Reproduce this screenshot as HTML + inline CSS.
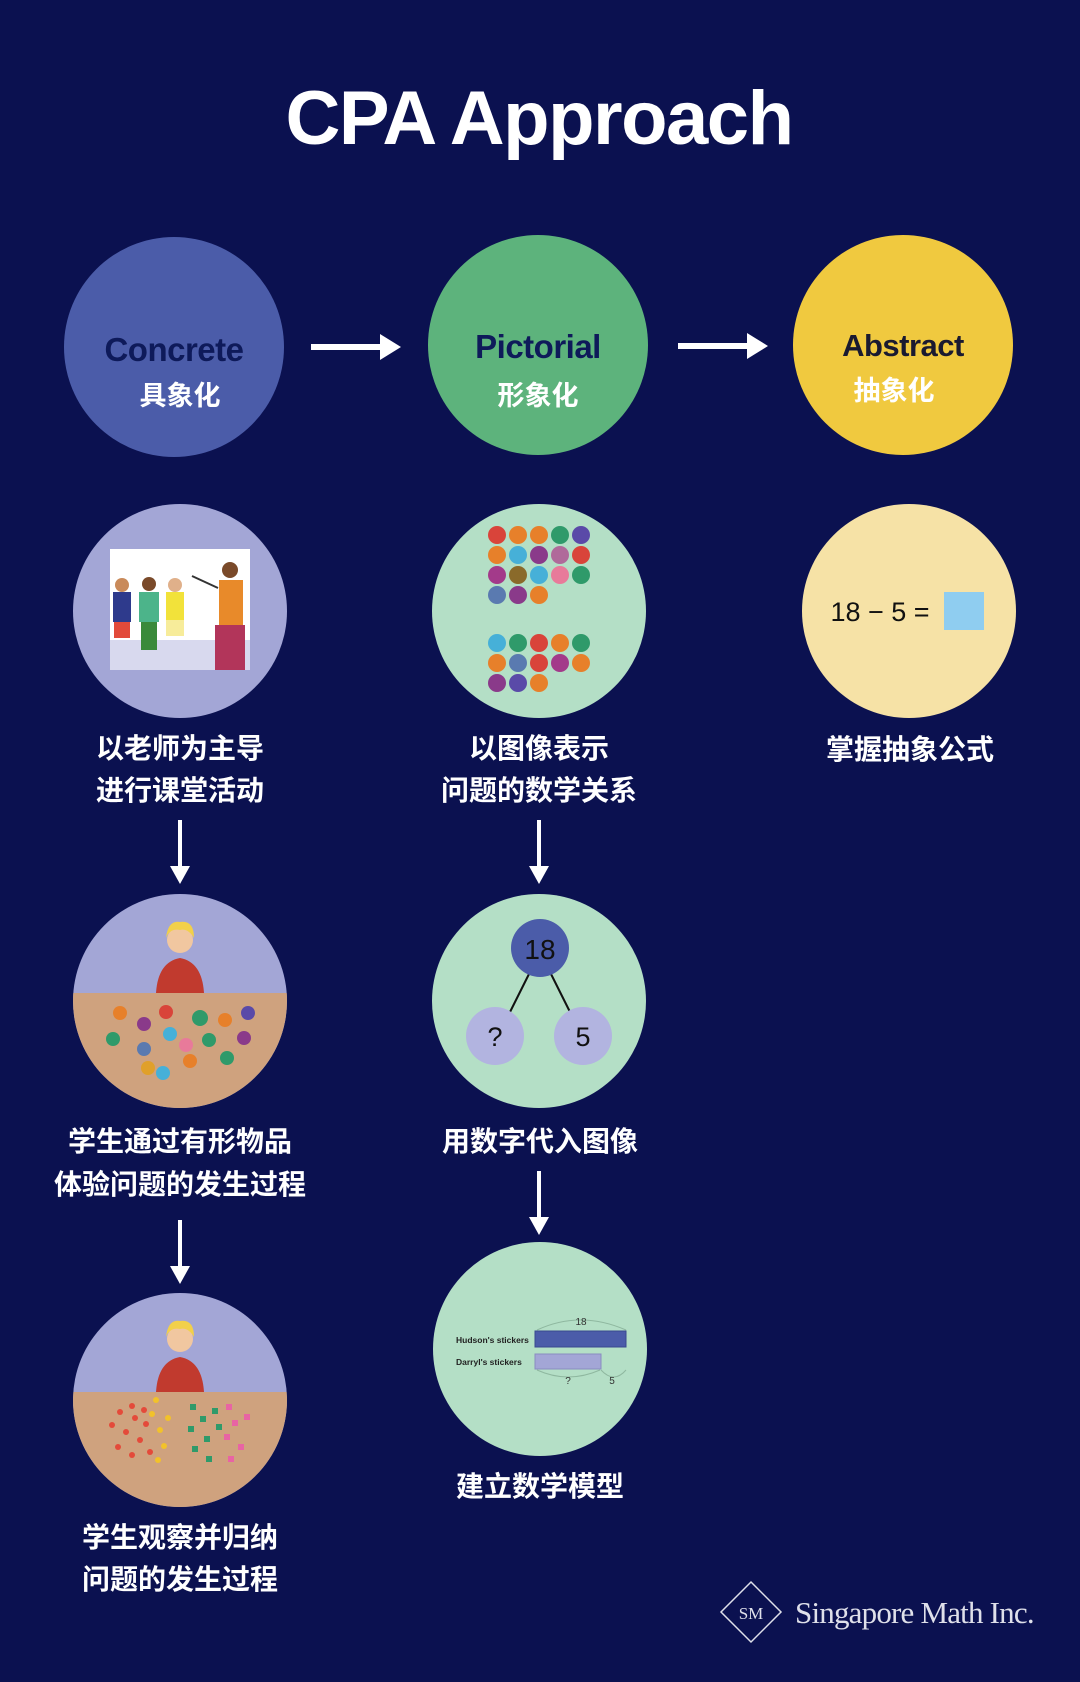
<!DOCTYPE html>
<html><head><meta charset="utf-8"><style>
html,body{margin:0;padding:0;background:#0b1150;}
svg{display:block}
text{font-family:"Liberation Sans","Noto Sans CJK SC",sans-serif;}
.cn{font-family:"Liberation Sans","Noto Sans CJK SC",sans-serif;font-weight:700;fill:#fff;font-size:28px;text-anchor:middle}
.serif{font-family:"Liberation Serif",serif;}
</style></head><body>
<svg width="1080" height="1682" viewBox="0 0 1080 1682" xmlns="http://www.w3.org/2000/svg">
<defs>
<clipPath id="c1"><circle cx="180" cy="1001" r="107"/></clipPath>
<clipPath id="c2"><circle cx="180" cy="1400" r="107"/></clipPath>
</defs>
<rect width="1080" height="1682" fill="#0b1150"/>
<text x="539" y="144" text-anchor="middle" font-size="76" font-weight="700" fill="#fff" letter-spacing="-1.5">CPA Approach</text>

<!-- top circles -->
<circle cx="174" cy="347" r="110" fill="#4b5ca9"/>
<text x="174" y="361" text-anchor="middle" font-size="33" font-weight="700" fill="#0e1a5a" letter-spacing="-0.5">Concrete</text>
<text x="180" y="405" text-anchor="middle" font-size="27" font-weight="700" fill="#fff">具象化</text>
<circle cx="538" cy="345" r="110" fill="#5db37c"/>
<text x="538" y="358" text-anchor="middle" font-size="33" font-weight="700" fill="#0e1a5a" letter-spacing="-0.5">Pictorial</text>
<text x="538" y="405" text-anchor="middle" font-size="27" font-weight="700" fill="#fff">形象化</text>
<circle cx="903" cy="345" r="110" fill="#f0c93f"/>
<text x="903" y="356" text-anchor="middle" font-size="31" font-weight="700" fill="#1a1a30" letter-spacing="-0.5">Abstract</text>
<text x="894" y="400" text-anchor="middle" font-size="27" font-weight="700" fill="#fff">抽象化</text>

<g stroke="#fff" stroke-width="6" fill="none">
<line x1="311" y1="347" x2="388" y2="347"/>
<line x1="678" y1="346" x2="755" y2="346"/>
</g>
<path d="M380,334 L401,347 L380,360 Z" fill="#fff"/>
<path d="M747,333 L768,346 L747,359 Z" fill="#fff"/>

<!-- row 2 -->
<circle cx="180" cy="611" r="107" fill="#a3a6d6"/>
<rect x="110" y="549" width="140" height="100" fill="#fff"/>
<rect x="110" y="640" width="140" height="30" fill="#d8d9ee"/>
<g>
<rect x="113" y="592" width="18" height="30" fill="#2e3a8c"/><rect x="114" y="622" width="16" height="16" fill="#e24a3a"/><circle cx="122" cy="585" r="7" fill="#c98a5a"/>
<rect x="139" y="592" width="20" height="30" fill="#4cb48a"/><rect x="141" y="622" width="16" height="28" fill="#3a8a3a"/><circle cx="149" cy="584" r="7" fill="#7a4a2a"/>
<rect x="166" y="592" width="18" height="28" fill="#f2e23a"/><rect x="166" y="620" width="18" height="16" fill="#f7ec9a"/><circle cx="175" cy="585" r="7" fill="#e0b08a"/>
<rect x="219" y="580" width="24" height="45" fill="#e88a2a"/><rect x="215" y="625" width="30" height="45" fill="#b2355a"/><circle cx="230" cy="570" r="8" fill="#7a4a2a"/>
<line x1="218" y1="588" x2="192" y2="576" stroke="#333" stroke-width="2"/>
</g>
<text class="cn" x="180" y="758">以老师为主导</text>
<text class="cn" x="180" y="800">进行课堂活动</text>

<circle cx="539" cy="611" r="107" fill="#b4dfc6"/>
<g>
<circle cx="497" cy="535" r="9" fill="#d9443a"/><circle cx="518" cy="535" r="9" fill="#e7802a"/><circle cx="539" cy="535" r="9" fill="#e7802a"/><circle cx="560" cy="535" r="9" fill="#2f9a6a"/><circle cx="581" cy="535" r="9" fill="#5a4aa8"/>
<circle cx="497" cy="555" r="9" fill="#e7802a"/><circle cx="518" cy="555" r="9" fill="#46b0d8"/><circle cx="539" cy="555" r="9" fill="#8a3a8a"/><circle cx="560" cy="555" r="9" fill="#b06a9a"/><circle cx="581" cy="555" r="9" fill="#d9443a"/>
<circle cx="497" cy="575" r="9" fill="#a33a8a"/><circle cx="518" cy="575" r="9" fill="#8a6a2a"/><circle cx="539" cy="575" r="9" fill="#46b0d8"/><circle cx="560" cy="575" r="9" fill="#e87a9a"/><circle cx="581" cy="575" r="9" fill="#2f9a6a"/>
<circle cx="497" cy="595" r="9" fill="#5a7ab0"/><circle cx="518" cy="595" r="9" fill="#8a3a8a"/><circle cx="539" cy="595" r="9" fill="#e7802a"/>
<circle cx="497" cy="643" r="9" fill="#46b0d8"/><circle cx="518" cy="643" r="9" fill="#2f9a6a"/><circle cx="539" cy="643" r="9" fill="#d9443a"/><circle cx="560" cy="643" r="9" fill="#e7802a"/><circle cx="581" cy="643" r="9" fill="#2f9a6a"/>
<circle cx="497" cy="663" r="9" fill="#e7802a"/><circle cx="518" cy="663" r="9" fill="#5a7ab0"/><circle cx="539" cy="663" r="9" fill="#d9443a"/><circle cx="560" cy="663" r="9" fill="#a33a8a"/><circle cx="581" cy="663" r="9" fill="#e7802a"/>
<circle cx="497" cy="683" r="9" fill="#8a3a8a"/><circle cx="518" cy="683" r="9" fill="#5a4aa8"/><circle cx="539" cy="683" r="9" fill="#e7802a"/>
</g>
<text class="cn" x="539" y="758">以图像表示</text>
<text class="cn" x="539" y="800">问题的数学关系</text>

<circle cx="909" cy="611" r="107" fill="#f6e2a6"/>
<text x="880" y="621" text-anchor="middle" font-size="27" fill="#111">18 − 5 =</text>
<rect x="944" y="592" width="40" height="38" fill="#8fcdf0"/>
<text class="cn" x="910" y="759">掌握抽象公式</text>

<!-- down arrows -->
<g stroke="#fff" stroke-width="4">
<line x1="180" y1="820" x2="180" y2="872"/>
<line x1="539" y1="820" x2="539" y2="872"/>
<line x1="180" y1="1220" x2="180" y2="1272"/>
<line x1="539" y1="1171" x2="539" y2="1223"/>
</g>
<path d="M170,866 L180,884 L190,866 Z" fill="#fff"/>
<path d="M529,866 L539,884 L549,866 Z" fill="#fff"/>
<path d="M170,1266 L180,1284 L190,1266 Z" fill="#fff"/>
<path d="M529,1217 L539,1235 L549,1217 Z" fill="#fff"/>

<!-- row 3 -->
<circle cx="180" cy="1001" r="107" fill="#a3a6d6"/>
<g clip-path="url(#c1)">
<path d="M60,993 L300,993 L300,1123 L60,1123 Z" fill="#cfa27e"/>
</g>
<path d="M156,993 Q158,962 180,958 Q202,962 204,993 Z" fill="#c13a2e"/>
<circle cx="180" cy="940" r="13" fill="#f1c7a0"/><path d="M166,938 Q168,920 180,922 Q194,920 194,938 Q188,928 180,930 Q170,928 166,938Z" fill="#f2d04a"/>
<g>
<circle cx="120" cy="1013" r="7" fill="#e7802a"/><circle cx="144" cy="1024" r="7" fill="#8a3a8a"/><circle cx="166" cy="1012" r="7" fill="#d9443a"/><circle cx="200" cy="1018" r="8" fill="#2f9a6a"/><circle cx="225" cy="1020" r="7" fill="#e7802a"/><circle cx="248" cy="1013" r="7" fill="#5a4aa8"/>
<circle cx="113" cy="1039" r="7" fill="#2f9a6a"/><circle cx="170" cy="1034" r="7" fill="#46b0d8"/><circle cx="186" cy="1045" r="7" fill="#e87a9a"/><circle cx="209" cy="1040" r="7" fill="#2f9a6a"/><circle cx="244" cy="1038" r="7" fill="#8a3a8a"/>
<circle cx="144" cy="1049" r="7" fill="#5a7ab0"/><circle cx="190" cy="1061" r="7" fill="#e7802a"/><circle cx="227" cy="1058" r="7" fill="#2f9a6a"/><circle cx="148" cy="1068" r="7" fill="#e0a02a"/><circle cx="163" cy="1073" r="7" fill="#46b0d8"/>
</g>
<text class="cn" x="180" y="1151">学生通过有形物品</text>
<text class="cn" x="180" y="1194">体验问题的发生过程</text>

<circle cx="539" cy="1001" r="107" fill="#b4dfc6"/>
<line x1="530" y1="972" x2="510" y2="1012" stroke="#111" stroke-width="2"/>
<line x1="550" y1="972" x2="570" y2="1012" stroke="#111" stroke-width="2"/>
<circle cx="540" cy="948" r="29" fill="#4b5ca9"/>
<text x="540" y="959" text-anchor="middle" font-size="28" fill="#111">18</text>
<circle cx="495" cy="1036" r="29" fill="#b2b4e0"/>
<text x="495" y="1046" text-anchor="middle" font-size="27" fill="#111">?</text>
<circle cx="583" cy="1036" r="29" fill="#b2b4e0"/>
<text x="583" y="1046" text-anchor="middle" font-size="27" fill="#111">5</text>
<text class="cn" x="540" y="1151">用数字代入图像</text>

<!-- row 4 -->
<circle cx="180" cy="1400" r="107" fill="#a3a6d6"/>
<g clip-path="url(#c2)">
<rect x="60" y="1392" width="240" height="130" fill="#cfa27e"/>
</g>
<path d="M156,1392 Q158,1361 180,1357 Q202,1361 204,1392 Z" fill="#c13a2e"/>
<circle cx="180" cy="1339" r="13" fill="#f1c7a0"/><path d="M166,1337 Q168,1319 180,1321 Q194,1319 194,1337 Q188,1327 180,1329 Q170,1327 166,1337Z" fill="#f2d04a"/>
<g fill="#e44a3a">
<circle cx="120" cy="1412" r="3"/><circle cx="132" cy="1406" r="3"/><circle cx="112" cy="1425" r="3"/><circle cx="126" cy="1432" r="3"/><circle cx="140" cy="1440" r="3"/><circle cx="118" cy="1447" r="3"/><circle cx="132" cy="1455" r="3"/><circle cx="146" cy="1424" r="3"/><circle cx="150" cy="1452" r="3"/><circle cx="135" cy="1418" r="3"/><circle cx="144" cy="1410" r="3"/>
</g>
<g fill="#f2c22a">
<circle cx="152" cy="1414" r="3"/><circle cx="160" cy="1430" r="3"/><circle cx="164" cy="1446" r="3"/><circle cx="158" cy="1460" r="3"/><circle cx="168" cy="1418" r="3"/><circle cx="156" cy="1400" r="3"/>
</g>
<g fill="#2f9a6a">
<rect x="190" y="1404" width="6" height="6"/><rect x="200" y="1416" width="6" height="6"/><rect x="188" y="1426" width="6" height="6"/><rect x="204" y="1436" width="6" height="6"/><rect x="192" y="1446" width="6" height="6"/><rect x="206" y="1456" width="6" height="6"/><rect x="212" y="1408" width="6" height="6"/><rect x="216" y="1424" width="6" height="6"/>
</g>
<g fill="#e864a4">
<rect x="226" y="1404" width="6" height="6"/><rect x="232" y="1420" width="6" height="6"/><rect x="224" y="1434" width="6" height="6"/><rect x="238" y="1444" width="6" height="6"/><rect x="228" y="1456" width="6" height="6"/><rect x="244" y="1414" width="6" height="6"/>
</g>
<text class="cn" x="180" y="1547">学生观察并归纳</text>
<text class="cn" x="180" y="1589">问题的发生过程</text>

<circle cx="540" cy="1349" r="107" fill="#b4dfc6"/>
<path d="M537,1330 Q580,1310 626,1330" stroke="#8fb8a0" fill="none" stroke-width="1"/>
<text x="581" y="1325" text-anchor="middle" font-size="10" fill="#333">18</text>
<rect x="535" y="1331" width="91" height="16" fill="#4b5ca9" stroke="#3a4890"/>
<rect x="535" y="1354" width="66" height="15" fill="#a3a6d6" stroke="#8a8cc0"/>
<text x="456" y="1343" font-size="8.5" font-weight="700" fill="#222">Hudson's stickers</text>
<text x="456" y="1365" font-size="8.5" font-weight="700" fill="#222">Darryl's stickers</text>
<path d="M537,1370 Q568,1384 600,1370" stroke="#8fb8a0" fill="none" stroke-width="1"/>
<path d="M601,1370 Q614,1384 626,1370" stroke="#8fb8a0" fill="none" stroke-width="1"/>
<text x="568" y="1384" text-anchor="middle" font-size="10" fill="#333">?</text>
<text x="612" y="1384" text-anchor="middle" font-size="10" fill="#333">5</text>
<text class="cn" x="540" y="1496">建立数学模型</text>

<!-- logo -->
<path d="M751,1582 L781,1612 L751,1642 L721,1612 Z" stroke="#dfe0ea" stroke-width="1.5" fill="none"/>
<text class="serif" x="751" y="1619" text-anchor="middle" font-size="17" fill="#dfe0ea">SM</text>
<text class="serif" x="795" y="1623" font-size="31" fill="#dfe0ea" letter-spacing="-0.8">Singapore Math Inc.</text>
</svg>
</body></html>
